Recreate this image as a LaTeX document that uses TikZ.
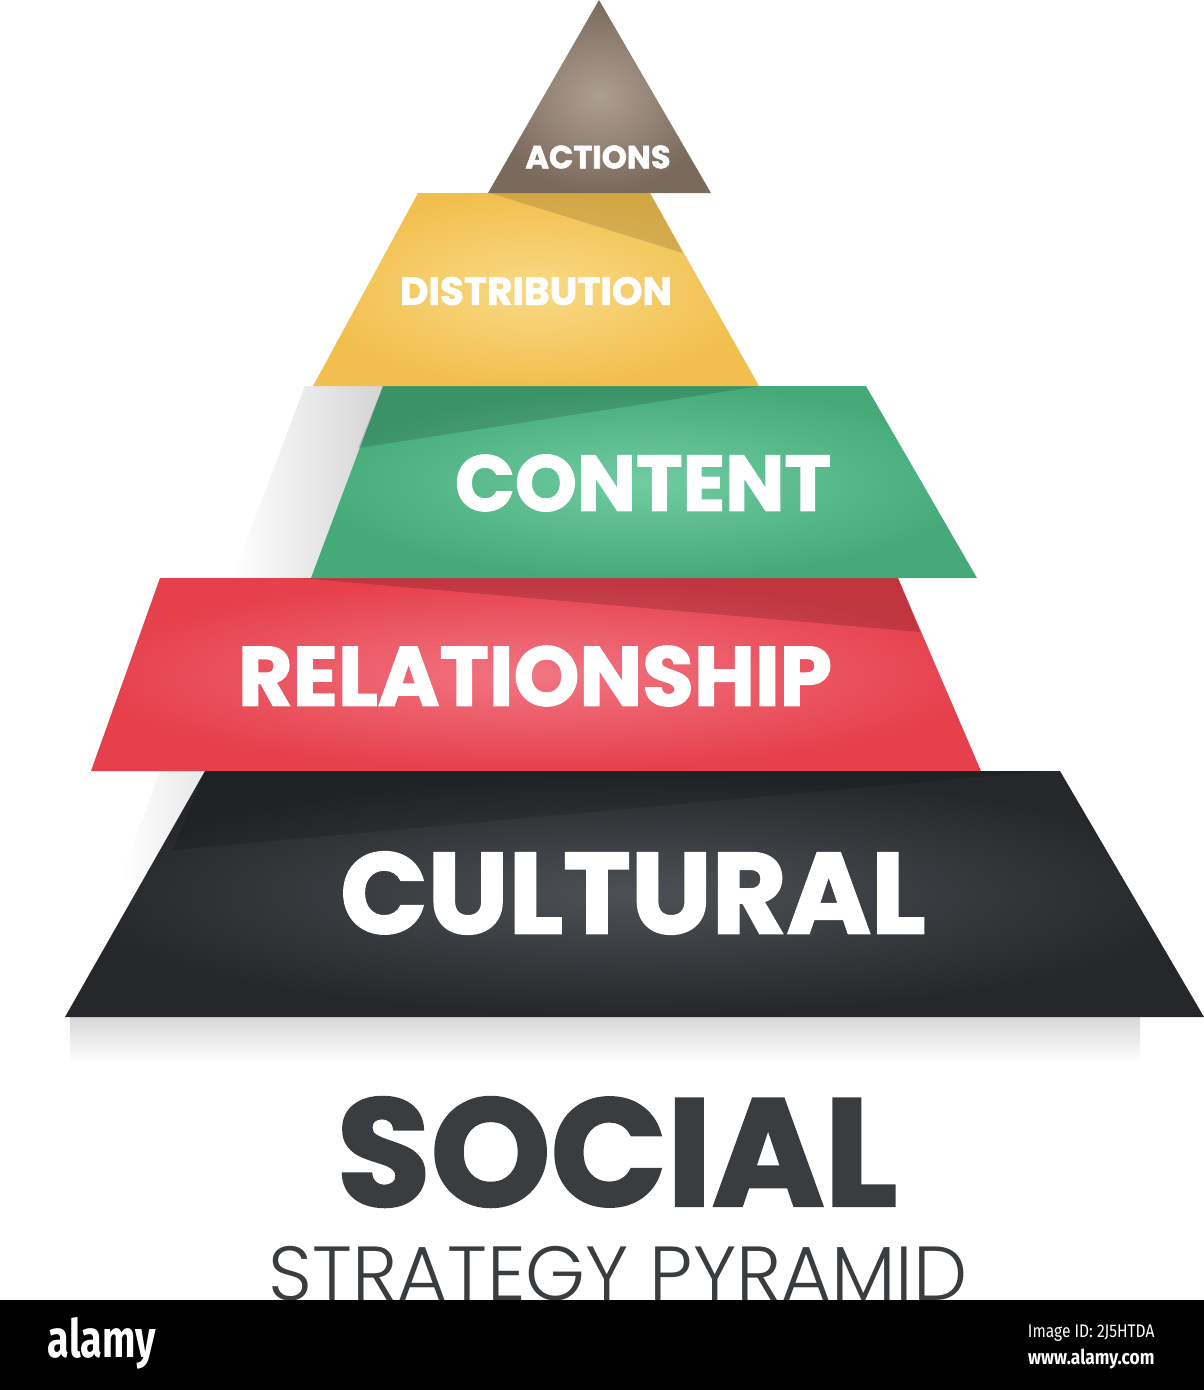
\documentclass[tikz,border=0pt]{standalone}
\usepackage{fontspec}
\setmainfont{Poppins}[BoldFeatures={FakeBold=1.8}]
\newfontfamily\lightfont{Poppins Light}
\newfontfamily\markfont{Fira Sans}
\definecolor{actdark}{HTML}{7A6A5C}
\definecolor{actlight}{HTML}{AD9F90}
\definecolor{disdark}{HTML}{F2BF4E}
\definecolor{dislight}{HTML}{F8DA86}
\definecolor{condark}{HTML}{45AA78}
\definecolor{conlight}{HTML}{70CCA2}
\definecolor{reldark}{HTML}{E6404C}
\definecolor{rellight}{HTML}{F27583}
\definecolor{culdark}{HTML}{25272A}
\definecolor{cullight}{HTML}{4D5155}
\definecolor{titlegray}{HTML}{3A3D40}
\tikzset{
  lbl/.style={text=white, inner sep=0pt},
  ttl/.style={text=titlegray, inner sep=0pt},
}
\begin{document}
\begin{tikzpicture}[x=0.01cm,y=-0.01cm]
\useasboundingbox (0,0) rectangle (1204,1390);
% soft shadows
\shade[left color=white, right color=black!17] (305,386) -- (383,386) -- (311,578) -- (232,578) -- cycle;
\shade[left color=white, right color=black!9] (160,771) -- (205,771) -- (165,880) -- (120,880) -- cycle;
\shade[top color=black!16, bottom color=white] (70,1017) rectangle (1140,1062);
% layers, bottom to top
\shade[inner color=cullight, outer color=culdark] (205,771) -- (1060,771) -- (1204,1017) -- (65,1017) -- cycle;
\fill[black, opacity=.15] (205,771) -- (1045,771) -- (173,850) -- cycle;
\shade[inner color=rellight, outer color=reldark] (160,578) -- (898,578) -- (981,771) -- (91,771) -- cycle;
\fill[black, opacity=.16] (300,578) -- (898,578) -- (920,632) -- cycle;
\shade[inner color=conlight, outer color=condark] (383,386) -- (866,386) -- (977,578) -- (311,578) -- cycle;
\fill[black, opacity=.14] (383,386) -- (760,386) -- (358,448) -- cycle;
\shade[inner color=dislight, outer color=disdark] (418,193) -- (650,193) -- (759,386) -- (313,386) -- cycle;
\fill[black, opacity=.13] (490,193) -- (650,193) -- (683,253) -- cycle;
\shade[inner color=actlight, outer color=actdark] (599,0) -- (711,193) -- (488,193) -- cycle;
% labels
\node[lbl, font=\bfseries\fontsize{9.1}{10}\selectfont] (actions) at (598,157) {ACTIONS};
\node[lbl, font=\bfseries\fontsize{11.1}{12}\selectfont] (distribution) at (536,291) {DISTRIBUTION};
\node[lbl, font=\bfseries\fontsize{22.4}{24}\selectfont] (content) at (643,483) {CONTENT};
\node[lbl, font=\bfseries\fontsize{23.8}{25}\selectfont] (relationship) at (535,676) {RELATIONSHIP};
\node[lbl, font=\bfseries\fontsize{32.6}{35}\selectfont] (cultural) at (633,893) {CULTURAL};
% title
\node[ttl, font=\bfseries\fontsize{43.4}{46}\selectfont] (social) at (617,1152) {SOCIAL};
\node[ttl, font=\lightfont\fontsize{21.8}{22}\selectfont] (strategy) at (618,1274) {STRATEGY PYRAMID};
% stock bar
\fill[black] (0,1300) rectangle (1204,1390);
\node[text=white, inner sep=0pt, font=\markfont\bfseries\fontsize{15}{16}\selectfont, xscale=.75] (logo) at (102,1343) {alamy};
\node[text=white, inner sep=0pt, anchor=east, font=\markfont\fontsize{5.2}{6}\selectfont, xscale=.85] (imgid) at (1155,1333) {Image ID: 2J5HTDA};
\node[text=white, inner sep=0pt, anchor=east, font=\markfont\bfseries\fontsize{5.8}{6}\selectfont, xscale=.85] (site) at (1155,1359) {www.alamy.com};
\end{tikzpicture}
\end{document}
